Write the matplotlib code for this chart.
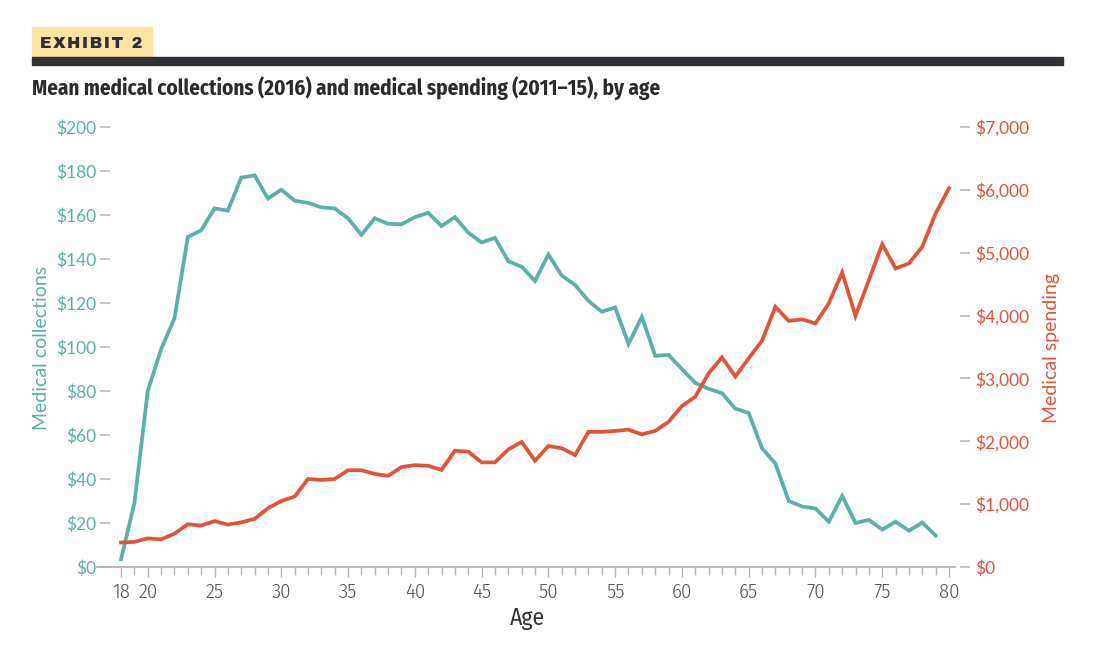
import matplotlib
matplotlib.use('Agg')
import matplotlib.pyplot as plt
from matplotlib.patches import Rectangle
from matplotlib.ticker import FuncFormatter

# Data read from the exhibit
ages_collections = list(range(18, 80))
collections = [3.5, 29, 80, 99, 113, 150, 153, 163, 162, 177,
               178, 167.5, 171.5, 166.5, 165.5, 163.5, 163, 158.5, 151, 158.5,
               156, 155.8, 159, 161, 155, 159, 152, 147.5, 149.6, 139,
               136.5, 130, 142, 132.5, 128.2, 121, 116, 118, 101.4, 113.7,
               96, 96.4, 90, 83.7, 81, 79, 72, 70, 54, 47,
               30, 27.5, 26.6, 20.6, 32.3, 20, 21.4, 17, 20.6, 16.5,
               20.2, 14.3]

ages_spending = list(range(18, 81))
spending = [390, 400, 455, 440, 530, 680, 660, 730, 675, 710,
            765, 935, 1050, 1120, 1400, 1385, 1400, 1540, 1540, 1480,
            1450, 1590, 1620, 1610, 1545, 1850, 1835, 1665, 1665, 1870,
            1990, 1690, 1925, 1890, 1780, 2150, 2150, 2165, 2185, 2110,
            2165, 2310, 2560, 2710, 3080, 3335, 3030, 3320, 3600, 4140,
            3915, 3940, 3875, 4195, 4685, 3995, 4565, 5135, 4750, 4830,
            5095, 5625, 6025]

age_ticks = [18, 20, 25, 30, 35, 40, 45, 50, 55, 60, 65, 70, 75, 80]
collection_ticks = list(range(0, 201, 20))
spending_ticks = list(range(0, 7001, 1000))

TEAL = '#5cb0a9'
RED = '#e2543a'
GREY = '#b3b3b3'
cond = ['Fira Sans Condensed', 'DejaVu Sans']
lato = ['Lato', 'DejaVu Sans']

W, H = 1116, 647
fig = plt.figure(figsize=(W / 100, H / 100), dpi=100)

# header
fig.patches.append(Rectangle((32 / W, 1 - 57 / H), 120 / W, 30 / H,
                             transform=fig.transFigure, color='#fbe4a1', zorder=0))
fig.patches.append(Rectangle((32 / W, 1 - 65 / H), 1031 / W, 8 / H,
                             transform=fig.transFigure, color='#2e3035', zorder=1))
fig.text(40 / W, 1 - 43 / H, '\u200a'.join('EXHIBIT') + '\u2009 2', fontsize=11.5, color='#2e3035',
         va='center', ha='left', family=['Archivo Black', 'DejaVu Sans'])
fig.text(32 / W, 1 - 88 / H, 'Mean medical collections (2016) and medical spending (2011–15), by age',
         fontsize=15.2, fontweight='bold', color='#2b2b2b', va='center', ha='left', family=cond)

# axes
x0, x1 = 97, 955
y0, y1 = 567, 127
ax = fig.add_axes([x0 / W, 1 - y0 / H, (x1 - x0) / W, (y0 - y1) / H])
ax2 = ax.twinx()

ax.plot(ages_collections, collections, color=TEAL, lw=2.7, solid_joinstyle='miter')
ax2.plot(ages_spending, spending, color=RED, lw=2.7, solid_joinstyle='miter')

ax.set_xlim(16.2, 80.45)
ax.set_ylim(0, 200)
ax2.set_ylim(0, 7000)

for s in ['top', 'right', 'left']:
    ax.spines[s].set_visible(False)
for s in ['top', 'right', 'left', 'bottom']:
    ax2.spines[s].set_visible(False)
ax.spines['bottom'].set_color(GREY)
ax.spines['bottom'].set_linewidth(1.3)
ax.spines['left'].set_position(('data', 17.18))
ax2.spines['right'].set_position(('outward', 3.6))

ax.set_xticks(age_ticks)
ax.set_xticks(ages_spending, minor=True)
ax.tick_params(axis='x', which='major', direction='out', length=7, width=1, color=GREY,
               pad=4, labelsize=15, labelcolor='#555555')
ax.tick_params(axis='x', which='minor', direction='out', length=5.5, width=1, color=GREY)
for lbl in ax.get_xticklabels():
    lbl.set_family(cond)
    lbl.set_fontweight(300)

ax.set_yticks(collection_ticks)
ax.yaxis.set_major_formatter(FuncFormatter(lambda v, p: '${:,.0f}'.format(v)))
ax.tick_params(axis='y', direction='out', length=7.2, width=1.1, color=GREY,
               pad=3, labelsize=12.5, labelcolor=TEAL)

ax2.set_yticks(spending_ticks)
ax2.yaxis.set_major_formatter(FuncFormatter(lambda v, p: '${:,.0f}'.format(v)))
ax2.tick_params(axis='y', direction='out', length=7.2, width=1.1, color=GREY,
                pad=3.6, labelsize=12.5, labelcolor=RED)

for lbl in ax.get_yticklabels() + ax2.get_yticklabels():
    lbl.set_family(lato)

fig.text(527 / W, 1 - 618 / H, 'Age', fontsize=17, color='#333333', ha='center', va='center',
         family=cond)
fig.text(42 / W, 1 - 348 / H, 'Medical collections', fontsize=14, color=TEAL, rotation=90,
         ha='center', va='center', family=lato)
fig.text(1052 / W, 1 - 348 / H, 'Medical spending', fontsize=14, color=RED, rotation=90,
         ha='center', va='center', family=lato)

fig.savefig('out.png', dpi=100, facecolor='white')
